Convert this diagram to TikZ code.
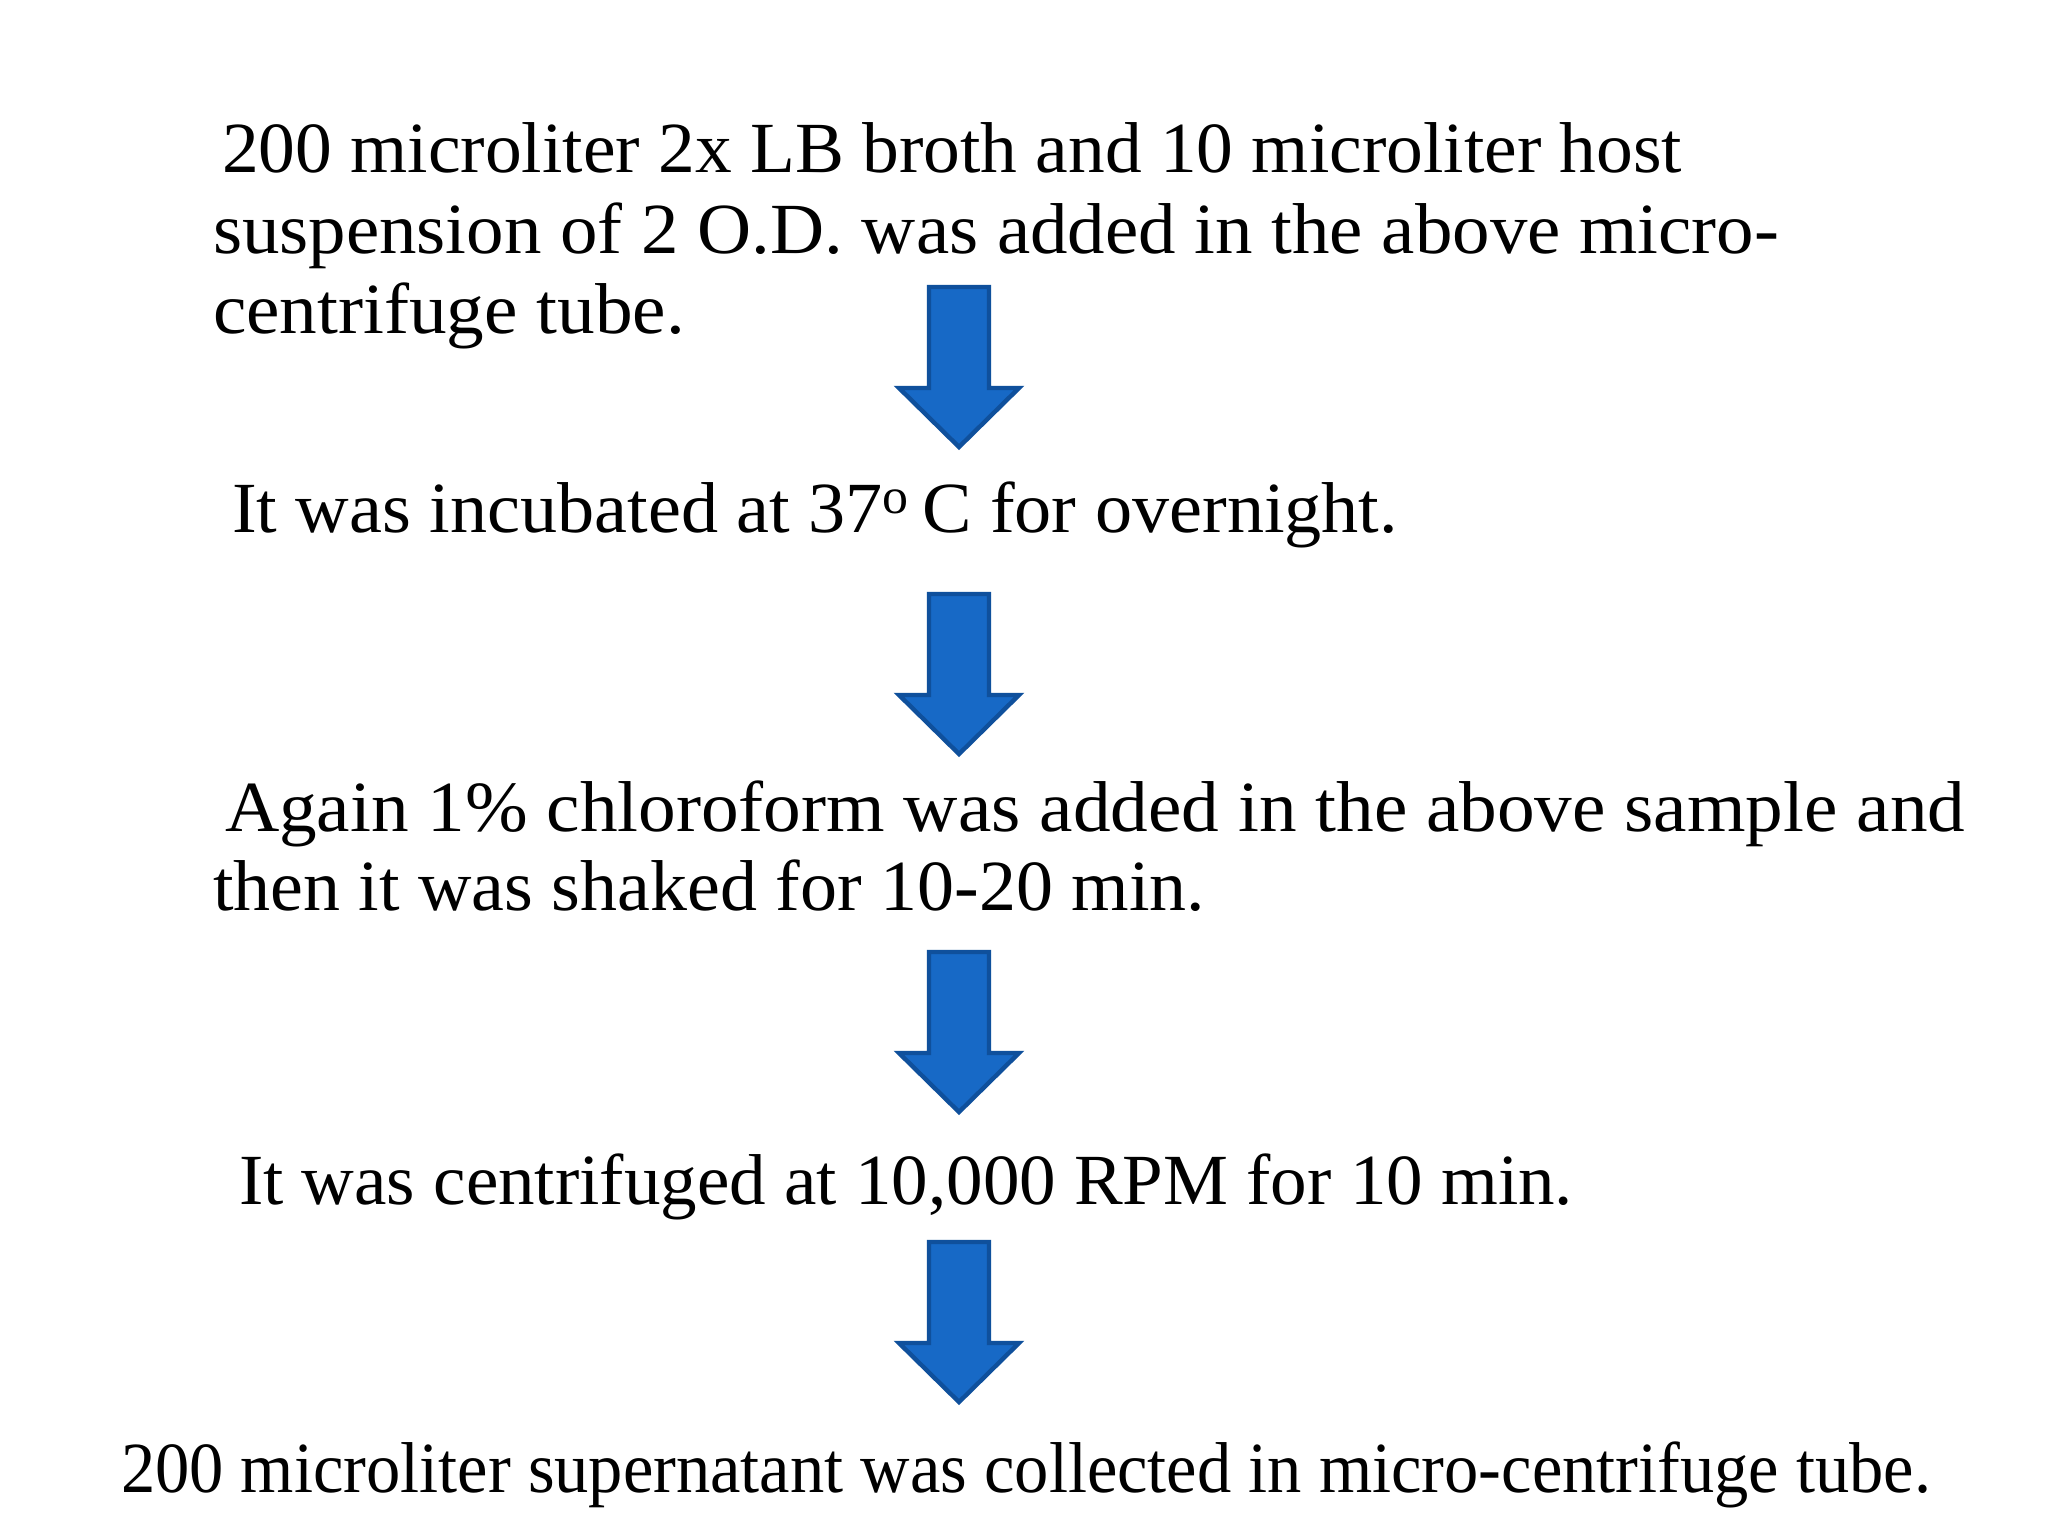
\documentclass[tikz,border=0pt]{standalone}
\usepackage{graphicx}
\usepackage{fontspec}
\setmainfont{Liberation Serif}
\definecolor{arrowfill}{HTML}{1769C6}
\definecolor{arrowedge}{HTML}{0F509C}
\tikzset{
  steptext/.style={anchor=base west, inner sep=0pt, outer sep=0pt,
    font=\fontsize{36}{40}\selectfont},
  blockarrow/.style={fill=arrowfill, draw=arrowedge, line width=2.2pt, line join=miter},
}
\newcommand{\fitw}[2]{\resizebox{#1}{\height}{#2}}
\newcommand{\downarrowshape}[1]{%
  \draw[blockarrow] (#1) ++(-30,0) -- ++(60,0) -- ++(0,101) -- ++(30,0)
    -- ++(-60,59) -- ++(-60,-59) -- ++(30,0) -- cycle;}
\begin{document}
\begin{tikzpicture}[x=0.5pt,y=-0.5pt]
\useasboundingbox[fill=white] (0,0) rectangle (2048,1536);
% step 1
\node[steptext] (s1a) at (222,172) {\fitw{730pt}{200 microliter 2x LB broth and 10 microliter host}};
\node[steptext] (s1b) at (213,253) {\fitw{783pt}{suspension of 2 O.D. was added in the above micro-}};
\node[steptext] (s1c) at (213,333) {\fitw{236pt}{centrifuge tube.}};
% step 2
\node[steptext] (s2) at (232,532) {\fitw{583pt}{It was incubated at 37\textsuperscript{o}\,C for overnight.}};
% step 3
\node[steptext] (s3a) at (225,831) {\fitw{870pt}{Again 1\% chloroform was added in the above sample and}};
\node[steptext] (s3b) at (213,910) {\fitw{496pt}{then it was shaked for 10-20 min.}};
% step 4
\node[steptext] (s4) at (239,1204) {\fitw{667pt}{It was centrifuged at 10,000 RPM for 10 min.}};
% step 5
\node[steptext] (s5) at (121,1492) {\fitw{905pt}{200 microliter supernatant was collected in micro-centrifuge tube.}};
% arrows
\coordinate (a1) at (959,287);
\coordinate (a2) at (959,594);
\coordinate (a3) at (959,952);
\coordinate (a4) at (959,1242);
\downarrowshape{a1}
\downarrowshape{a2}
\downarrowshape{a3}
\downarrowshape{a4}
\end{tikzpicture}
\end{document}
